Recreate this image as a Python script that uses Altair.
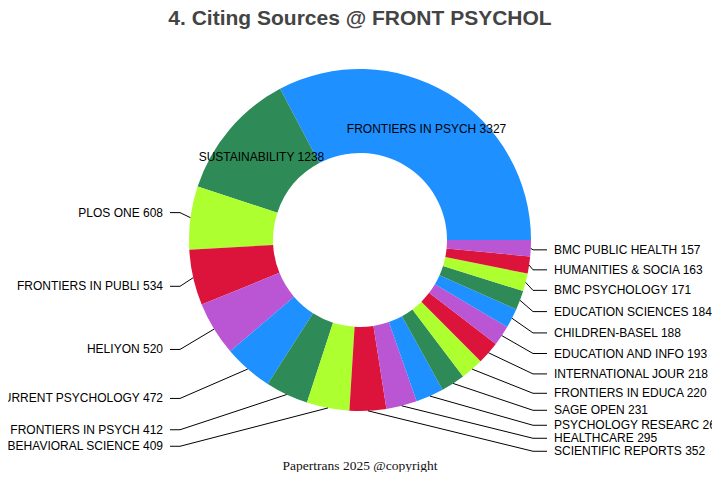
import math
import altair as alt
import pandas as pd

# ---- data ----
names = ["FRONTIERS IN PSYCH", "SUSTAINABILITY", "PLOS ONE", "FRONTIERS IN PUBLI",
         "HELIYON", "CURRENT PSYCHOLOGY", "FRONTIERS IN PSYCH", "BEHAVIORAL SCIENCE",
         "SCIENTIFIC REPORTS", "HEALTHCARE", "PSYCHOLOGY RESEARC", "SAGE OPEN",
         "FRONTIERS IN EDUCA", "INTERNATIONAL JOUR", "EDUCATION AND INFO",
         "CHILDREN-BASEL", "EDUCATION SCIENCES", "BMC PSYCHOLOGY",
         "HUMANITIES & SOCIA", "BMC PUBLIC HEALTH"]
values = [3327, 1238, 608, 534, 520, 472, 412, 409, 352, 295, 269, 231, 220,
          218, 193, 188, 184, 171, 163, 157]
palette = ["#1E90FF", "#2E8B57", "#ADFF2F", "#DC143C", "#BA55D3"]
title_text = "4. Citing Sources @ FRONT PSYCHOL"
footer_text = ["Papertrans 2025 @copyright"]

df = pd.DataFrame({"idx": list(range(len(names))), "name": names, "value": values})

# ---- geometry (pixels, view coordinates) ----
W, H = 704, 428
CX, CY = 352, 196
R_OUT, R_IN, R_MID = 171, 87, 129
FONT = "Liberation Sans"

arcs = alt.Chart(df).transform_calculate(
    ci="datum.idx % 5"
).mark_arc(innerRadius=R_IN, outerRadius=R_OUT, stroke=None).encode(
    theta=alt.Theta("value:Q", stack=True,
                    scale=alt.Scale(range=[math.pi / 2, math.pi / 2 + 2 * math.pi],
                                    nice=False, zero=True)),
    order=alt.Order("value:Q", sort="ascending"),
    color=alt.Color("ci:O", scale=alt.Scale(domain=[0, 1, 2, 3, 4], range=palette),
                    legend=None),
    x=alt.value(CX),
    y=alt.value(CY),
)

base = alt.Chart(df).transform_joinaggregate(
    total="sum(value)"
).transform_window(
    cum="sum(value)", sort=[alt.SortField("value", order="descending")], frame=[None, 0]
).transform_calculate(
    a="2*PI*(datum.cum - datum.value/2)/datum.total",
    label="datum.name + ' ' + datum.value",
)

inside = base.transform_filter("datum.value >= 1000").transform_calculate(
    lx=f"{CX} + {R_MID}*cos(datum.a)",
    ly=f"{CY} - {R_MID}*sin(datum.a)",
).mark_text(font=FONT, fontSize=12, color="black", align="center", baseline="middle").encode(
    x=alt.X("lx:Q", scale=None, axis=None),
    y=alt.Y("ly:Q", scale=None, axis=None),
    text="label:N",
)

outer = base.transform_filter("datum.value < 1000").transform_calculate(
    side="cos(datum.a) >= 0 ? 1 : -1",
).transform_calculate(
    sx=f"{CX} + {R_OUT}*cos(datum.a)",
    sy=f"{CY} - {R_OUT}*sin(datum.a)",
    ly0=f"{CY} - (datum.side > 0 ? 203 : 210)*sin(datum.a)",
    ex="datum.side > 0 ? 525 : 172",
    hx="datum.side > 0 ? 539 : 162",
    tx="datum.side > 0 ? 546 : 155",
).transform_window(
    rn="row_number()", groupby=["side"], sort=[alt.SortField("ly0", order="ascending")]
).transform_calculate(
    t="datum.ly0 - datum.rn*13"
).transform_window(
    cm="max(t)", groupby=["side"], sort=[alt.SortField("ly0", order="ascending")],
    frame=[None, 0]
).transform_calculate(
    ly="datum.cm + datum.rn*13"
)

leader1 = outer.mark_rule(color="black", strokeWidth=1).encode(
    x=alt.X("sx:Q", scale=None, axis=None),
    y=alt.Y("sy:Q", scale=None, axis=None),
    x2="ex:Q",
    y2="ly:Q",
)
leader2 = outer.mark_rule(color="black", strokeWidth=1).encode(
    x=alt.X("ex:Q", scale=None, axis=None),
    x2="hx:Q",
    y=alt.Y("ly:Q", scale=None, axis=None),
)
text_right = outer.transform_filter("datum.side > 0").mark_text(
    font=FONT, fontSize=12, color="black", align="left", baseline="middle"
).encode(
    x=alt.X("tx:Q", scale=None, axis=None),
    y=alt.Y("ly:Q", scale=None, axis=None),
    text="label:N",
)
text_left = outer.transform_filter("datum.side < 0").mark_text(
    font=FONT, fontSize=12, color="black", align="right", baseline="middle"
).encode(
    x=alt.X("tx:Q", scale=None, axis=None),
    y=alt.Y("ly:Q", scale=None, axis=None),
    text="label:N",
)

footer = alt.Chart(pd.DataFrame({"t": footer_text})).mark_text(
    font="Liberation Serif", fontSize=13.5, color="#111111", align="center", baseline="middle"
).encode(
    text="t:N",
    x=alt.value(CX),
    y=alt.value(422),
)

chart = alt.layer(arcs, leader1, leader2, inside, text_right, text_left, footer).properties(
    width=W,
    height=H,
    title=alt.TitleParams(title_text, fontSize=21, font=FONT, fontWeight="bold",
                          color="#444444", anchor="middle", offset=15),
    autosize=alt.AutoSizeParams(type="none"),
    padding={"top": 36, "left": 0, "right": 0, "bottom": 0},
).configure_view(stroke=None)

chart.save("out.html", embed_options={"renderer": "svg", "actions": False})
